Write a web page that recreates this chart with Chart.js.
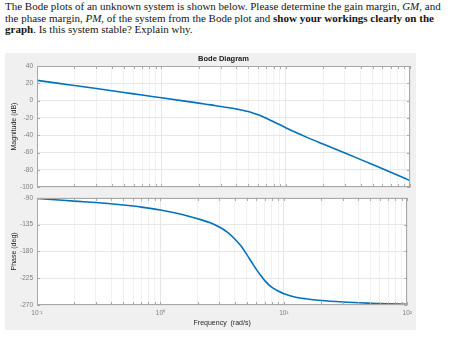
<!DOCTYPE html>
<html>
<head>
<meta charset="utf-8">
<script src="https://cdn.jsdelivr.net/npm/chart.js@4"></script>
<style>
  body { margin: 0; background: #fff; width: 474px; height: 338px; overflow: hidden; position: relative; }
  #q { position: absolute; left: 5px; top: 1px; font-family: "Liberation Serif", "Times New Roman", serif;
       font-size: 11px; line-height: 11.5px; white-space: nowrap; color: #151515; }
  #panel { position: absolute; left: 5px; top: 53px; width: 411px; height: 277px; background: #f0f0f0; }
  canvas { position: absolute; }
</style>
</head>
<body>
<div id="q">The Bode plots of an unknown system is shown below. Please determine the gain margin, <i>GM</i>, and<br>the phase margin, <i>PM</i>, of the system from the Bode plot and <b>show your workings clearly on the</b><br><b>graph</b>. Is this system stable? Explain why.</div>
<div id="panel"></div>
<canvas id="mag" width="411" height="142" style="left:5px;top:53px"></canvas>
<canvas id="ph" width="411" height="140" style="left:5px;top:190px"></canvas>
<script>
// frequency in rad/s
const freq      = [0.1, 0.15, 0.2, 0.3, 0.5, 0.7, 1, 1.5, 2, 2.5, 3, 3.5, 4, 4.5, 5, 5.5, 6, 6.5, 7, 8, 9, 10, 12, 15, 20, 30, 50, 70, 100];
// magnitude (dB)
const magnitude = [23.4, 19.9, 17.4, 13.9, 9.4, 6.4, 3.3, -0.3, -2.9, -4.9, -6.9, -8.3, -9.7, -11.1, -12.7, -14.5, -16.4, -18.4, -20.5, -24.5, -28.0, -31.3, -36.7, -42.8, -50.2, -60.5, -74.0, -82.8, -92.4];
// phase (deg)
const phase     = [-91.1, -93.5, -95.5, -97.7, -102, -105.5, -110.4, -118, -125, -131.5, -139, -148, -159, -171, -185, -198.5, -210.5, -220.5, -229, -240.5, -246.5, -251, -256, -259.5, -262.5, -265, -267, -268, -268.7];

const decades = [0.1, 1, 10, 100];
const decadeLabels = ['10\u207B\u00B9', '10\u2070', '10\u00B9', '10\u00B2'];
const magTicks = [40, 20, 0, -20, -40, -60, -80, -100];
const phaseTicks = [-90, -135, -180, -225, -270];

const blue = '#0072bd';
const gridMajor = '#e6e6e6';
const gridMinor = '#f1f1f1';
const boxColor = '#a8a8a8';
const tickColor = '#7d7d7d';
const sans = '"Liberation Sans", Arial, sans-serif';

// minor + major tick positions on the log axis
const xTickValues = [];
decades.slice(0, -1).forEach(d => { for (let k = 1; k < 10; k++) xTickValues.push(k * d); });
xTickValues.push(decades[decades.length - 1]);

function isDecade(v) {
  return decades.findIndex(d => Math.abs(d - v) < 1e-9);
}

function pts(ys) {
  return freq.map((f, i) => ({ x: f, y: ys[i] }));
}

// white plot area, box and inward tick marks like MATLAB
const frame = {
  id: 'frame',
  beforeDraw(c) {
    const a = c.chartArea, ctx = c.ctx;
    ctx.save();
    ctx.fillStyle = '#fff';
    ctx.fillRect(a.left, a.top, a.right - a.left, a.bottom - a.top);
    ctx.restore();
  },
  afterDraw(c, args, opts) {
    const a = c.chartArea, ctx = c.ctx;
    ctx.save();
    ctx.strokeStyle = boxColor;
    ctx.lineWidth = 1;
    ctx.strokeRect(Math.round(a.left) + 0.5, Math.round(a.top) + 0.5,
                   Math.round(a.right - a.left) - 1, Math.round(a.bottom - a.top) - 1);
    ctx.beginPath();
    c.scales.x.ticks.forEach(t => {
      const px = Math.round(c.scales.x.getPixelForValue(t.value)) + 0.5;
      ctx.moveTo(px, a.top); ctx.lineTo(px, a.top + 3);
      ctx.moveTo(px, a.bottom); ctx.lineTo(px, a.bottom - 3);
    });
    c.scales.y.ticks.forEach(t => {
      const py = Math.round(c.scales.y.getPixelForValue(t.value)) + 0.5;
      ctx.moveTo(a.left, py); ctx.lineTo(a.left + 3, py);
      ctx.moveTo(a.right, py); ctx.lineTo(a.right - 3, py);
    });
    ctx.stroke();
    if (opts.title) {
      ctx.fillStyle = '#1a1a1a';
      ctx.font = 'bold 7.5px ' + sans;
      ctx.textAlign = 'center';
      ctx.textBaseline = 'middle';
      ctx.fillText(opts.title, (a.left + a.right) / 2, a.top - 7.5);
    }
    ctx.restore();
  }
};

function xScale(showLabels) {
  return {
    type: 'logarithmic',
    min: 0.1,
    max: 100,
    afterBuildTicks: s => { s.ticks = xTickValues.map(v => ({ value: v })); },
    afterFit: s => { s.height = showLabels ? 24 : 0; },
    border: { display: false },
    grid: {
      color: ctx => (ctx.tick && isDecade(ctx.tick.value) >= 0) ? gridMajor : gridMinor,
      drawTicks: false
    },
    ticks: {
      display: showLabels,
      autoSkip: false,
      maxRotation: 0,
      padding: 4,
      color: tickColor,
      font: { family: sans, size: 6.5 },
      callback: v => {
        const i = isDecade(v);
        return i >= 0 ? decadeLabels[i] : '';
      }
    },
    title: {
      display: showLabels,
      text: 'Frequency  (rad/s)',
      color: '#262626',
      font: { family: sans, size: 7 },
      padding: { top: 0, bottom: 2 }
    }
  };
}

function yScale(min, max, tickList, label) {
  return {
    min: min,
    max: max,
    afterBuildTicks: s => { s.ticks = tickList.map(v => ({ value: v })); },
    afterFit: s => { s.width = 32; },
    border: { display: false },
    grid: { color: gridMajor, drawTicks: false },
    ticks: { color: tickColor, padding: 4, font: { family: sans, size: 6.5 } },
    title: {
      display: true,
      text: label,
      color: '#262626',
      font: { family: sans, size: 7 },
      padding: { top: 5, bottom: 0 }
    }
  };
}

function makeChart(id, ys, yMin, yMax, yTicks, yLabel, showX, pad, title) {
  return new Chart(document.getElementById(id), {
    type: 'line',
    data: {
      datasets: [{
        data: pts(ys),
        borderColor: blue,
        borderWidth: 1.6,
        pointRadius: 0,
        fill: false,
        cubicInterpolationMode: 'monotone'
      }]
    },
    options: {
      responsive: false,
      animation: false,
      devicePixelRatio: 1,
      layout: { padding: pad },
      plugins: {
        legend: { display: false },
        tooltip: { enabled: false },
        frame: { title: title }
      },
      scales: {
        x: xScale(showX),
        y: yScale(yMin, yMax, yTicks, yLabel)
      }
    },
    plugins: [frame]
  });
}

makeChart('mag', magnitude, -100, 40, magTicks, 'Magnitude (dB)', false,
  { left: 0, right: 6, top: 13, bottom: 5 }, 'Bode Diagram');
makeChart('ph', phase, -270, -90, phaseTicks, 'Phase (deg)', true,
  { left: 0, right: 6, top: 6, bottom: 1 }, '');
</script>
</body>
</html>
